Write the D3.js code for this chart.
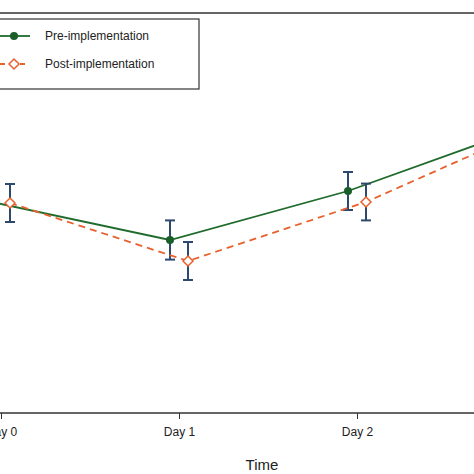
<!DOCTYPE html><html><head><script src="https://d3js.org/d3.v7.min.js"></script>
<style>body{margin:0;background:#fff}</style></head><body><svg id="c" width="474" height="474"></svg>
<script>
const days=["Day 0","Day 1","Day 2","Day 3"];
const preVals=[52.75,43.25,55.5,71.5];
const postVals=[52.5,38,52.75,72.5];
const preErr=[4.75,4.9,4.75,4.75];
const postErr=[4.75,4.75,4.6,4.75];
const svg=d3.select("#c");
const x=d3.scaleLinear().domain([0,3]).range([1,535]);
const y=d3.scaleLinear().domain([0,100]).range([413,13]);
const off=9;
svg.append("line").attr("x1",0).attr("x2",474).attr("y1",y(100)).attr("y2",y(100)).attr("stroke","#333").attr("stroke-width",1.5);
const ax=svg.append("g").attr("transform",`translate(0,${y(0)})`).call(d3.axisBottom(x).tickValues([0,1,2,3]).tickFormat(i=>days[i]).tickSize(6).tickPadding(8));
ax.select(".domain").attr("stroke","#333").attr("stroke-width",1.5).attr("d","M0,0H474");
ax.selectAll(".tick line").attr("stroke","#333");
ax.selectAll("text").attr("font-family","Liberation Sans, Arial").attr("font-size",12).attr("fill","#222");
svg.append("text").attr("x",262).attr("y",470).attr("text-anchor","middle").attr("font-family","Liberation Sans, Arial").attr("font-size",15).attr("fill","#222").text("Time");
function series(vals,errs,dx,col,dash,marker){
  const pts=vals.map((v,i)=>[x(i)+dx,y(v)]);
  svg.append("path").attr("d",d3.line()(pts)).attr("fill","none").attr("stroke",col).attr("stroke-width",1.8).attr("stroke-dasharray",dash);
  vals.forEach((v,i)=>{
    const cx=x(i)+dx,g=svg.append("g").attr("stroke","#2d4a6e").attr("stroke-width",2);
    g.append("line").attr("x1",cx).attr("x2",cx).attr("y1",y(v+errs[i])).attr("y2",y(v-errs[i]));
    [v+errs[i],v-errs[i]].forEach(e=>g.append("line").attr("x1",cx-5).attr("x2",cx+5).attr("y1",y(e)).attr("y2",y(e)));
    marker(cx,y(v));
  });
}
const dot=(cx,cy)=>svg.append("circle").attr("cx",cx).attr("cy",cy).attr("r",4).attr("fill","#1a5e2a");
const dia=(cx,cy)=>svg.append("path").attr("d",`M${cx},${cy-5}L${cx+5},${cy}L${cx},${cy+5}L${cx-5},${cy}Z`).attr("fill","#fff").attr("stroke","#e8602c").attr("stroke-width",1.5);
series(preVals,preErr,-off,"#1f6b2b",null,dot);
series(postVals,postErr,off,"#e8602c","7,5",dia);
svg.append("rect").attr("x",-5).attr("y",19).attr("width",204).attr("height",70).attr("fill","#fff").attr("stroke","#333").attr("stroke-width",1.2);
svg.append("line").attr("x1",0).attr("x2",30).attr("y1",36).attr("y2",36).attr("stroke","#1f6b2b").attr("stroke-width",1.8);
dot(14,36);
svg.append("line").attr("x1",0).attr("x2",30).attr("y1",64).attr("y2",64).attr("stroke","#e8602c").attr("stroke-width",1.8).attr("stroke-dasharray","5,5");
dia(14,64);
[["Pre-implementation",36],["Post-implementation",64]].forEach(([t,yy])=>svg.append("text").attr("x",45).attr("y",yy+4).attr("font-family","Liberation Sans, Arial").attr("font-size",12).attr("fill","#222").text(t));
</script></body></html>
